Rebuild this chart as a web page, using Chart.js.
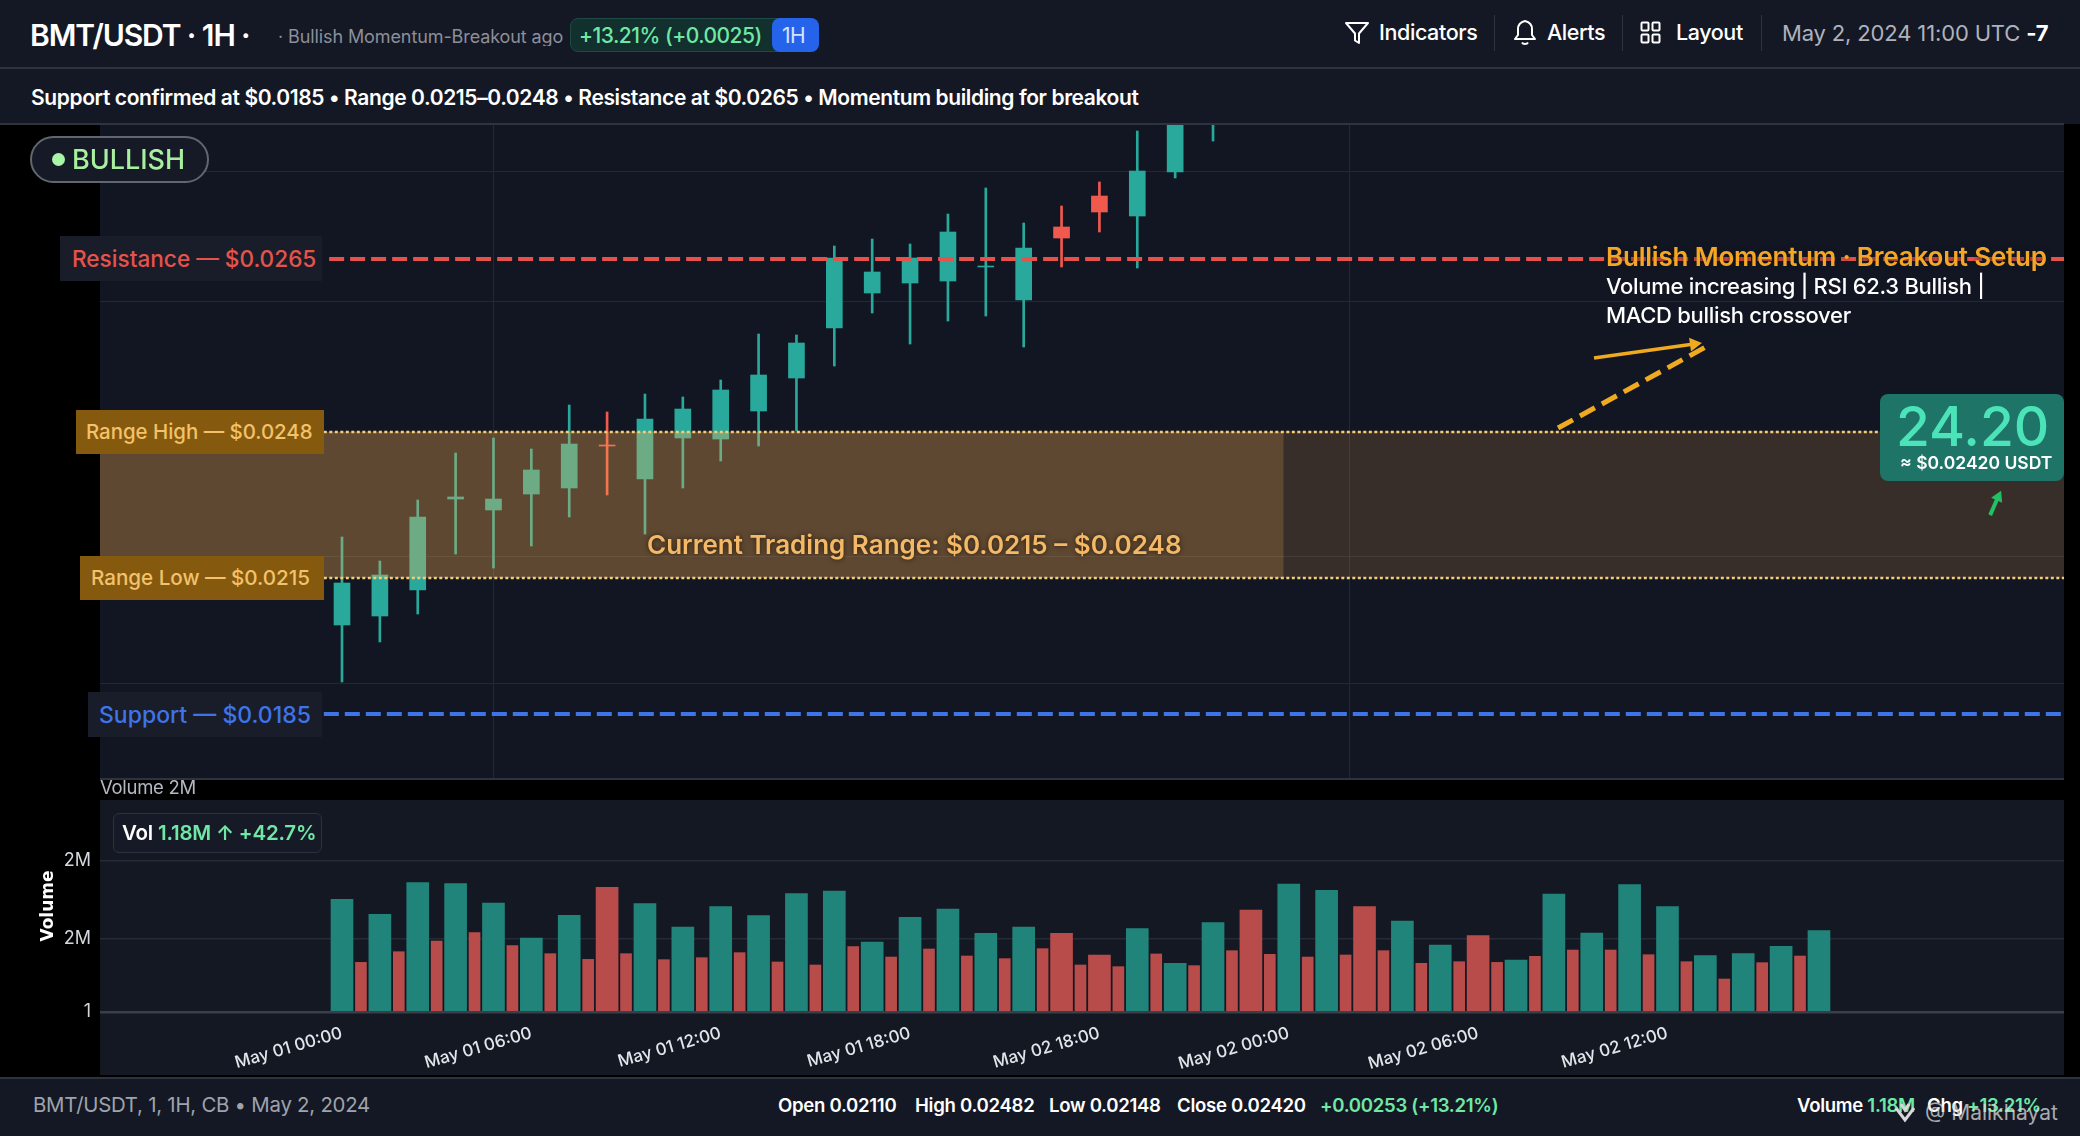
<!DOCTYPE html>
<html>
<head>
<meta charset="utf-8">
<script src="https://cdn.jsdelivr.net/npm/chart.js@4/dist/chart.umd.js"></script>
<style>
  html, body { margin: 0; background: #000; }
  #page { position: relative; width: 2080px; height: 1136px; overflow: hidden; font-family: Inter, sans-serif; color: #fff; }
  .box { position: absolute; }
  .t { position: absolute; white-space: nowrap; transform: translateY(-50%); line-height: 1; }
  .green { color: #6fe8a6; }
  canvas { position: absolute; display: block; }
  svg { position: absolute; }
</style>
</head>
<body>
<div id="page">
  <!-- backgrounds -->
  <div class="box" style="left:0;top:0;width:2080px;height:124px;background:#141824"></div>
  <div class="box" style="left:100px;top:125px;width:1964px;height:653px;background:#121622"></div>
  <div class="box" style="left:100px;top:800px;width:1964px;height:275px;background:#141823"></div>
  <div class="box" style="left:0;top:1077px;width:2080px;height:59px;background:#141824"></div>

  <canvas id="priceChart" width="1964" height="653" style="left:100px;top:125px"></canvas>
  <canvas id="volumeChart" width="2064" height="275" style="left:0;top:800px"></canvas>

  <div class="box" style="left:0;top:67px;width:2080px;height:2px;background:#2e3340"></div>
  <div class="box" style="left:0;top:123px;width:2064px;height:2px;background:#2e3340"></div>
  <div class="box" style="left:100px;top:778px;width:1964px;height:2px;background:#2e3340"></div>
  <div class="box" style="left:0;top:1077px;width:2080px;height:2px;background:#2e3340"></div>

  <!-- header -->
  <div class="t" style="left:30px;top:35px;font-size:30px;font-weight:600;letter-spacing:-1.1px">BMT/USDT · 1H ·</div>
  <div class="t" style="left:278px;top:37px;width:290px;overflow:hidden;font-size:18px;color:#8b8f9a;letter-spacing:-.1px">· Bullish Momentum-Breakout ago</div>
  <div class="box" style="left:570px;top:18px;width:212px;height:34px;background:#12302d;border:1px solid #1f4a44;border-radius:8px 0 0 8px;box-sizing:border-box"></div>
  <div class="t green" style="left:579px;top:35px;font-size:21px;font-weight:500;letter-spacing:-.5px">+13.21% (+0.0025)</div>
  <div class="box" style="left:772px;top:18px;width:47px;height:34px;background:#2563eb;border-radius:8px"></div>
  <div class="t" style="left:782px;top:35px;font-size:21px;color:#d5e3ff;letter-spacing:-.5px">1H</div>

  <svg style="left:1344px;top:21px" width="26" height="24" fill="none" stroke="#fff" stroke-width="2" stroke-linejoin="round"><path d="M2 2H24L15 12.5V22L11 19.5V12.5Z"/></svg>
  <div class="t" style="left:1379px;top:33px;font-size:21.5px;font-weight:500;letter-spacing:-.4px">Indicators</div>
  <div class="box" style="left:1494px;top:15px;width:1px;height:36px;background:#2e3340"></div>
  <svg style="left:1513px;top:19px" width="24" height="27" fill="none" stroke="#fff" stroke-width="2" stroke-linejoin="round"><path d="M2 20H22L19 16V10C19 5 16 3 12 2C8 3 5 5 5 10V16ZM9 23.5C10 25.5 14 25.5 15 23.5"/></svg>
  <div class="t" style="left:1547px;top:33px;font-size:21.5px;font-weight:500;letter-spacing:-.4px">Alerts</div>
  <div class="box" style="left:1622px;top:15px;width:1px;height:36px;background:#2e3340"></div>
  <svg style="left:1640px;top:21px" width="21" height="23" fill="none" stroke="#fff" stroke-width="2"><rect x="1.5" y="1.5" width="7" height="8" rx="1"/><rect x="12.5" y="1.5" width="7" height="8" rx="1"/><rect x="1.5" y="13.5" width="7" height="8" rx="1"/><rect x="12.5" y="13.5" width="7" height="8" rx="1"/></svg>
  <div class="t" style="left:1676px;top:33px;font-size:21.5px;font-weight:500;letter-spacing:-.4px">Layout</div>
  <div class="box" style="left:1761px;top:15px;width:1px;height:36px;background:#2e3340"></div>
  <div class="t" style="left:1782px;top:33px;font-size:22px;color:#aeb2bd;letter-spacing:-.15px">May 2, 2024 11:00 UTC <b style="color:#fff">-7</b></div>

  <div class="t" style="left:31px;top:97px;font-size:21px;font-weight:600;letter-spacing:-.39px">Support confirmed at $0.0185 • Range 0.0215–0.0248 • Resistance at $0.0265 • Momentum building for breakout</div>

  <!-- pill -->
  <div class="box" style="left:30px;top:136px;width:179px;height:47px;background:#161a26;border:2px solid #62666f;border-radius:24px;box-sizing:border-box"></div>
  <div class="box" style="left:52px;top:153px;width:13px;height:13px;background:#a8f5a8;border-radius:50%"></div>
  <div class="t" style="left:72px;top:159px;font-size:27px;font-weight:500;color:#a8f0a0">BULLISH</div>

  <!-- level labels -->
  <div class="box" style="left:60px;top:236px;width:262px;height:45px;background:#191d29"></div>
  <div class="t" style="left:72px;top:259px;font-size:22.6px;font-weight:500;color:#e5534b">Resistance — $0.0265</div>
  <div class="box" style="left:76px;top:410px;width:248px;height:44px;background:#855a0e"></div>
  <div class="t" style="left:86px;top:432px;font-size:20.4px;font-weight:500;color:#f3c26a">Range High — $0.0248</div>
  <div class="box" style="left:80px;top:556px;width:244px;height:44px;background:#855a0e"></div>
  <div class="t" style="left:91px;top:578px;font-size:20.6px;font-weight:500;color:#f3c26a">Range Low — $0.0215</div>
  <div class="box" style="left:88px;top:692px;width:234px;height:45px;background:#191d29"></div>
  <div class="t" style="left:99px;top:715px;font-size:23px;font-weight:500;color:#3f74e8">Support — $0.0185</div>

  <div class="t" style="left:647px;top:545px;font-size:26px;font-weight:600;color:#f3b968;text-shadow:0 0 5px #2a1c08">Current Trading Range: $0.0215 – $0.0248</div>

  <div class="t" style="left:1606px;top:257px;font-size:26px;font-weight:600;color:#f5a623;letter-spacing:-.2px;text-shadow:0 0 4px rgba(18,22,34,.9)">Bullish Momentum · Breakout Setup</div>
  <div class="t" style="left:1606px;top:286px;font-size:22px;font-weight:500;letter-spacing:-.3px">Volume increasing | RSI 62.3 Bullish |</div>
  <div class="t" style="left:1606px;top:315px;font-size:22px;font-weight:500;letter-spacing:-.3px">MACD bullish crossover</div>

  <!-- price badge -->
  <div class="box" style="left:1880px;top:394px;width:184px;height:87px;background:#1f7468;border-radius:8px"></div>
  <div class="t" style="left:1896px;top:426px;font-size:55px;font-weight:500;color:#4be3b8">24.20</div>
  <div class="t" style="left:1900px;top:463px;font-size:17.5px;font-weight:600">≈ $0.02420 USDT</div>

  <!-- volume -->
  <div class="t" style="left:100px;top:787px;font-size:18.5px;color:#b4b8c2;letter-spacing:-.3px">Volume 2M</div>
  <div class="box" style="left:113px;top:813px;width:209px;height:40px;background:#161a26;border:1px solid #2c3040;border-radius:6px;box-sizing:border-box"></div>
  <div class="t" style="left:122px;top:833px;font-size:20.5px;font-weight:600;letter-spacing:-.2px">Vol <span class="green">1.18M ↑ +42.7%</span></div>

  <!-- footer -->
  <div class="t" style="left:33px;top:1105px;font-size:20.4px;color:#9ea3ad;letter-spacing:-.25px">BMT/USDT, 1, 1H, CB • May 2, 2024</div>
  <div class="t" style="left:778px;top:1105px;font-size:18.6px;font-weight:600;letter-spacing:-.3px">Open 0.02110</div>
  <div class="t" style="left:915px;top:1105px;font-size:18.6px;font-weight:600;letter-spacing:-.3px">High 0.02482</div>
  <div class="t" style="left:1049px;top:1105px;font-size:18.6px;font-weight:600;letter-spacing:-.3px">Low 0.02148</div>
  <div class="t" style="left:1177px;top:1105px;font-size:18.6px;font-weight:600;letter-spacing:-.3px">Close 0.02420</div>
  <div class="t green" style="left:1320px;top:1105px;font-size:18.6px;font-weight:600;letter-spacing:-.3px">+0.00253 (+13.21%)</div>
  <div class="t" style="left:1797px;top:1105px;font-size:18.6px;font-weight:600;letter-spacing:-.3px">Volume <span class="green">1.18M</span></div>
  <div class="t" style="left:1927px;top:1105px;font-size:18.6px;font-weight:600;letter-spacing:-.3px">Chg <span class="green">+13.21%</span></div>
  <svg style="left:1893px;top:1100px" width="24" height="24" fill="none" stroke="#d8d8d8" stroke-width="3"><path d="M3 8L12 20L21 8M8 4L12 10L16 4"/></svg>
  <div class="t" style="left:1925px;top:1112px;font-size:21px;color:rgba(220,220,220,.75)">@ Malikhayat</div>
</div>

<script>
// candles (the source's price levels are not evenly
// spaced, so values follow the drawn position, not the printed labels)
const opens  = [0.020438, 0.020641, 0.021229, 0.023285, 0.023037, 0.023398, 0.023534, 0.024506, 0.023737, 0.024664, 0.024641, 0.025274, 0.026020, 0.027150, 0.027941, 0.028167, 0.028212, 0.028529, 0.027783, 0.029433, 0.030133, 0.029681, 0.030676, 0.032303];
const highs  = [0.022427, 0.021884, 0.023263, 0.024325, 0.024664, 0.024415, 0.025410, 0.025252, 0.025658, 0.025591, 0.025975, 0.027014, 0.026992, 0.029003, 0.029161, 0.029048, 0.029726, 0.030314, 0.029523, 0.029907, 0.030450, 0.031602, 0.032529, 0.032529];
const lows   = [0.019150, 0.020054, 0.020686, 0.022042, 0.021726, 0.022223, 0.022879, 0.023376, 0.022494, 0.023534, 0.024144, 0.024483, 0.024822, 0.026291, 0.027489, 0.026788, 0.027308, 0.027421, 0.026721, 0.028529, 0.029320, 0.028506, 0.030540, 0.031376];
const closes = [0.021387, 0.021568, 0.022879, 0.023331, 0.023285, 0.023941, 0.024528, 0.024483, 0.025093, 0.025319, 0.025749, 0.026088, 0.026811, 0.028732, 0.028416, 0.028732, 0.029320, 0.028551, 0.028958, 0.029184, 0.029772, 0.030698, 0.032303, 0.032416];

// horizontal levels as plotted
const resistanceLevel = 0.028709;
const rangeHighLevel = 0.024800;
const rangeLowLevel = 0.021500;
const supportLevel = 0.018426;

const priceGridValues = [0.030698, 0.027760, 0.024822, 0.021975, 0.019127];
const timeGridValues = [3.99, 26.6];

// volume, millions. wide bars on the hour, narrow ones between them
const wideVolume = [1.543, 1.338, 1.772, 1.758, 1.493, 1.014, 1.324, 1.708, 1.484, 1.164, 1.443, 1.320, 1.621, 1.658, 0.959, 1.297, 1.411, 1.078, 1.164, 1.078, 0.781, 1.142, 0.667, 1.224, 1.397, 1.753, 1.667, 1.443, 1.247, 0.918, 1.046, 0.712, 1.616, 1.082, 1.744, 1.443, 0.772, 0.799, 0.900, 1.114];
const wideDown = [7, 19, 20, 24, 27, 30];
const narrowVolume = [0.680, 0.826, 0.973, 1.087, 0.909, 0.799, 0.721, 0.799, 0.717, 0.744, 0.813, 0.685, 0.644, 0.895, 0.753, 0.863, 0.767, 0.731, 0.868, 0.644, 0.621, 0.795, 0.635, 0.840, 0.790, 0.753, 0.781, 0.840, 0.667, 0.689, 0.680, 0.763, 0.849, 0.849, 0.785, 0.689, 0.452, 0.676, 0.767];

const volumeTickValues = [0, 1, 2.07];
const volumeTickLabels = ['1', '2M', '2M'];
const timeTickValues = [0, 5, 10, 15, 20, 25, 30, 35];
const timeTickLabels = ['May 01 00:00', 'May 01 06:00', 'May 01 12:00', 'May 01 18:00', 'May 02 18:00', 'May 02 00:00', 'May 02 06:00', 'May 02 12:00'];

const xMin = -6.39;
const xMax = 45.47;
const bandSplit = 24.87;
const priceMin = 0.01698;
const priceMax = 0.031738;

const upColor = '#29a99b';
const downColor = '#f0594e';

const hLine = (y, x0, color, dash, width, order) => ({
  type: 'line',
  data: [{x: x0, y}, {x: xMax, y}],
  borderColor: color,
  borderDash: dash,
  borderWidth: width,
  pointRadius: 0,
  order,
});

const band = (y, x0, x1, fill) => ({
  type: 'line',
  data: [{x: x0, y}, {x: x1, y}],
  borderWidth: 0,
  pointRadius: 0,
  backgroundColor: fill || 'transparent',
  fill: fill ? '+1' : false,
  order: 4,
});

new Chart(document.getElementById('priceChart'), {
  type: 'bar',
  data: {
    datasets: [
      {
        data: highs.map((h, i) => ({x: i, y: [lows[i], h]})),
        backgroundColor: opens.map((o, i) => (closes[i] >= o ? upColor : downColor)),
        barThickness: 2,
        grouped: false,
        order: 6,
      },
      {
        data: opens.map((o, i) => ({x: i, y: [o, closes[i]]})),
        backgroundColor: opens.map((o, i) => (closes[i] >= o ? upColor : downColor)),
        barThickness: 16,
        grouped: false,
        order: 5,
      },
      band(rangeHighLevel, xMin, bandSplit, 'rgba(249,177,85,0.33)'),
      band(rangeLowLevel, xMin, bandSplit),
      band(rangeHighLevel, bandSplit, xMax, 'rgba(249,177,85,0.16)'),
      band(rangeLowLevel, bandSplit, xMax),
      hLine(rangeHighLevel, -0.48, '#f5cd78', [3, 2.5], 2.5, 3),
      hLine(rangeLowLevel, -0.48, '#f5cd78', [3, 2.5], 2.5, 3),
      hLine(resistanceLevel, -0.34, '#e8504a', [15, 6], 4, 2),
      hLine(supportLevel, -0.48, '#3f74e8', [15, 6], 4, 2),
      {
        type: 'line',
        data: [{x: 32.11, y: 0.02489}, {x: 36.15, y: 0.026788}],
        borderColor: '#f0aa1f',
        borderDash: [17, 8],
        borderWidth: 5,
        pointRadius: 0,
        order: 1,
      },
      {
        type: 'line',
        data: [{x: 33.06, y: 0.026472}, {x: 35.70, y: 0.026788}],
        borderColor: '#f0aa1f',
        backgroundColor: '#f0aa1f',
        borderWidth: 3.5,
        pointStyle: 'triangle',
        pointRadius: [0, 8],
        pointBorderWidth: 0,
        pointRotation: 82,
        order: 1,
      },
      {
        type: 'line',
        data: [{x: 43.52, y: 0.02292}, {x: 43.73, y: 0.02333}],
        borderColor: '#22c063',
        backgroundColor: '#22c063',
        borderWidth: 4,
        pointStyle: 'triangle',
        pointRadius: [0, 7],
        pointBorderWidth: 0,
        pointRotation: 25,
        order: 1,
      },
    ],
  },
  options: {
    responsive: false,
    animation: false,
    events: [],
    layout: {padding: 0, autoPadding: false},
    plugins: {legend: {display: false}, tooltip: {enabled: false}},
    scales: {
      x: {
        type: 'linear',
        min: xMin,
        max: xMax,
        offset: false,
        afterBuildTicks: (axis) => {
          axis.ticks = timeGridValues.map((value) => ({value}));
        },
        grid: {color: '#232834', drawTicks: false, offset: false},
        border: {display: false},
        ticks: {display: false},
      },
      y: {
        min: priceMin,
        max: priceMax,
        afterBuildTicks: (axis) => {
          axis.ticks = priceGridValues.map((value) => ({value}));
        },
        grid: {color: '#232834', drawTicks: false},
        border: {display: false},
        ticks: {display: false},
      },
    },
  },
});

new Chart(document.getElementById('volumeChart'), {
  type: 'bar',
  data: {
    datasets: [
      {
        data: wideVolume.map((y, x) => ({x, y})),
        backgroundColor: wideVolume.map((_, i) => (wideDown.includes(i) ? '#b84c4a' : '#21847a')),
        barThickness: 22,
        grouped: false,
      },
      {
        data: narrowVolume.map((y, i) => ({x: i + 0.5, y})),
        backgroundColor: '#b84c4a',
        barThickness: 11,
        grouped: false,
      },
    ],
  },
  options: {
    responsive: false,
    animation: false,
    events: [],
    layout: {padding: 0, autoPadding: false},
    plugins: {legend: {display: false}, tooltip: {enabled: false}},
    scales: {
      x: {
        type: 'linear',
        min: xMin,
        max: xMax,
        offset: false,
        afterBuildTicks: (axis) => {
          axis.ticks = timeTickValues.map((value) => ({value}));
        },
        afterFit: (axis) => {
          axis.height = 63;
          axis.paddingLeft = 0;
          axis.paddingRight = 0;
        },
        grid: {display: false, offset: false},
        border: {display: false},
        ticks: {
          autoSkip: false,
          minRotation: 16,
          maxRotation: 16,
          padding: 3,
          color: '#e2e5ea',
          font: {family: 'Inter', size: 17, weight: '500'},
          callback: (value, index) => timeTickLabels[index],
        },
      },
      y: {
        min: 0,
        max: 2.904,
        afterBuildTicks: (axis) => {
          axis.ticks = volumeTickValues.map((value) => ({value}));
        },
        afterFit: (axis) => {
          axis.width = 100;
          axis.paddingTop = 0;
          axis.paddingBottom = 0;
        },
        grid: {
          drawTicks: false,
          lineWidth: (ctx) => (ctx.index === 0 ? 2.5 : 1.5),
          color: (ctx) => (ctx.index === 0 ? '#3a3e48' : '#262b37'),
        },
        border: {display: false},
        title: {
          display: true,
          text: 'Volume',
          color: '#fff',
          font: {family: 'DejaVu Sans', size: 17, weight: 'bold'},
          padding: {top: 38, bottom: 0},
        },
        ticks: {
          padding: 9,
          color: '#d4d7dd',
          font: {family: 'Inter', size: 18},
          callback: (value, index) => volumeTickLabels[index],
        },
      },
    },
  },
});
</script>
</body>
</html>
